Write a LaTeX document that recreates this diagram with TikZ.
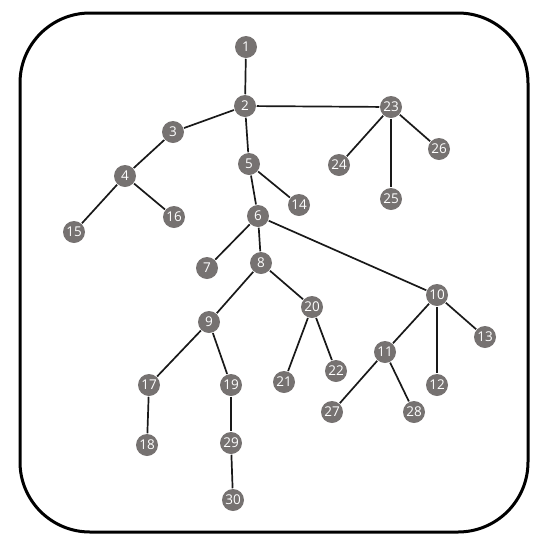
\documentclass[tikz,border=0pt]{standalone}
\usepackage{fontspec}
\setmainfont{Open Sans}
\usetikzlibrary{positioning}
\definecolor{nodegray}{RGB}{118,114,113}

\begin{document}
\begin{tikzpicture}
[x=1pt, y=-1pt, draw=black, line width=1.5pt,
vertex/.style={circle, fill=nodegray, text=white, inner sep=0pt, minimum size=22pt, font=\fontsize{13.5}{14}\selectfont},
link/.style={line width=1.7pt, draw=black!90}]

\useasboundingbox (0,0) rectangle (545,550);
\draw[line width=3pt, rounded corners=70pt] (20,13) rectangle (528,532);

\node[vertex] (n1) at (246,47) {1};
\node[vertex] (n2) at (245,106) {2};
\node[vertex] (n3) at (173,132) {3};
\node[vertex] (n4) at (125,176) {4};
\node[vertex] (n5) at (249,164) {5};
\node[vertex] (n6) at (258,216) {6};
\node[vertex] (n7) at (207,268) {7};
\node[vertex] (n8) at (261,263) {8};
\node[vertex] (n9) at (209,322) {9};
\node[vertex] (n10) at (437,295) {10};
\node[vertex] (n11) at (385,352) {11};
\node[vertex] (n12) at (437,385) {12};
\node[vertex] (n13) at (485,337) {13};
\node[vertex] (n14) at (299,205) {14};
\node[vertex] (n15) at (74,232) {15};
\node[vertex] (n16) at (174,217) {16};
\node[vertex] (n17) at (149,385) {17};
\node[vertex] (n18) at (147,445) {18};
\node[vertex] (n19) at (231,385) {19};
\node[vertex] (n20) at (312,307) {20};
\node[vertex] (n21) at (284,382) {21};
\node[vertex] (n22) at (336,371) {22};
\node[vertex] (n23) at (391,107) {23};
\node[vertex] (n24) at (339,165) {24};
\node[vertex] (n25) at (391,199) {25};
\node[vertex] (n26) at (439,149) {26};
\node[vertex] (n27) at (332,412) {27};
\node[vertex] (n28) at (414,412) {28};
\node[vertex] (n29) at (231,443) {29};
\node[vertex] (n30) at (233,500) {30};

\foreach \a/\b in {1/2, 2/3, 2/5, 2/23, 3/4, 4/15, 4/16, 5/14, 5/6, 6/7, 6/8, 6/10,
  8/9, 8/20, 9/17, 9/19, 17/18, 19/29, 29/30, 20/21, 20/22,
  10/11, 10/12, 10/13, 11/27, 11/28, 23/24, 23/25, 23/26}
  \draw[link] (n\a) -- (n\b);
\end{tikzpicture}
\end{document}
